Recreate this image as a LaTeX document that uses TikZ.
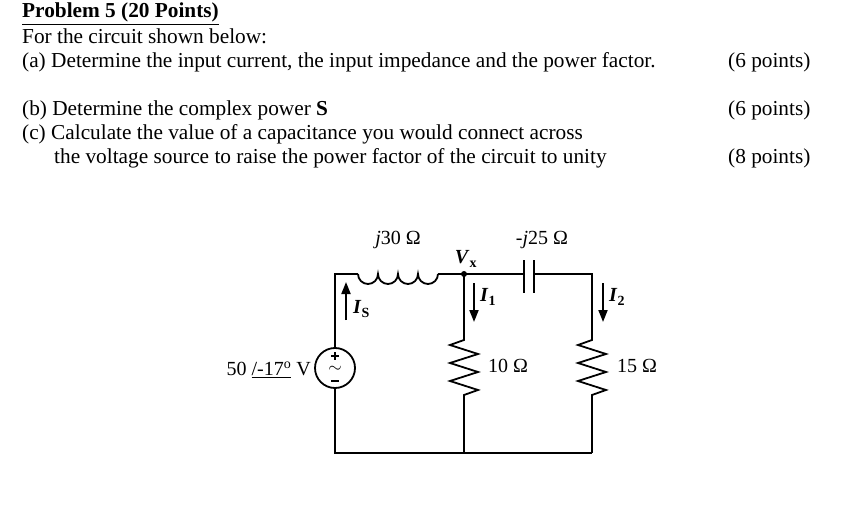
\documentclass[tikz,border=0pt]{standalone}
\usepackage{fontspec}
\setmainfont{Liberation Serif}
\usetikzlibrary{arrows.meta}
\begin{document}
\begin{tikzpicture}[x=1pt,y=-1pt,
  txt/.style={anchor=base west,inner sep=0pt,font=\fontsize{21.3}{24}\selectfont},
  lbl/.style={inner sep=0pt,font=\fontsize{20}{22}\selectfont},
  wire/.style={line width=1.8pt},
  cur/.style={line width=1.8pt,-{Triangle[length=12pt,width=9pt]}}]
\useasboundingbox (0,0) rectangle (854,513);
\node[txt] (t0) at (22,18) {\textbf{\underline{Problem 5 (20 Points)}}};
\node[txt] (t1) at (22,44) {For the circuit shown below:};
\node[txt] (t2) at (22,68) {(a) Determine the input current, the input impedance and the power factor.};
\node[txt] (t3) at (22,116) {(b) Determine the complex power \textbf{S}};
\node[txt] (t4) at (22,140) {(c) Calculate the value of a capacitance you would connect across};
\node[txt] (t5) at (54,164) {the voltage source to raise the power factor of the circuit to unity};
\node[txt] (p1) at (728,68) {(6 points)};
\node[txt] (p2) at (728,116) {(6 points)};
\node[txt] (p3) at (728,164) {(8 points)};
\coordinate (tl) at (335,274);
\coordinate (l1) at (358,274);
\coordinate (l2) at (438,274);
\coordinate (vx) at (464,274);
\coordinate (c1) at (524,274);
\coordinate (c2) at (534,274);
\coordinate (tr) at (592,274);
\coordinate (bl) at (335,453);
\coordinate (bm) at (464,453);
\coordinate (br) at (592,453);
\node[circle,draw,line width=1.8pt,minimum size=40pt,inner sep=0pt] (src) at (335,368) {};
\draw[line width=1.3pt] (331,356) -- (339,356) (335,352) -- (335,360);
\node[inner sep=0pt,font=\fontsize{18}{18}\selectfont] (sw) at (335,369) {$\sim$};
\draw[line width=1.3pt] (331,381) -- (339,381);
\coordinate (r1a) at (464,337); \coordinate (r1b) at (464,400);
\coordinate (r2a) at (592,337); \coordinate (r2b) at (592,400);
\draw[wire] (src.north) -- (tl) -- (l1);
\draw[wire] (l1) \foreach \i in {0,1,2,3} { arc[start angle=180,end angle=0,radius=10] };
\draw[wire] (l2) -- (vx) -- (c1);
\draw[wire] (c1) ++(0,-14) -- ++(0,33);
\draw[wire] (c2) ++(0,-14) -- ++(0,33);
\draw[wire] (c2) -- (tr) -- (r2a);
\draw[wire] (vx) -- (r1a);
\draw[wire] (r1a) -- ++(0,3) -- ++(-14,5) -- ++(28,9) -- ++(-28,9) -- ++(28,9) -- ++(-28,9) -- ++(28,9) -- ++(-14,5) -- (r1b);
\draw[wire] (r2a) -- ++(0,3) -- ++(-14,5) -- ++(28,9) -- ++(-28,9) -- ++(28,9) -- ++(-28,9) -- ++(28,9) -- ++(-14,5) -- (r2b);
\draw[wire] (r1b) -- (bm);
\draw[wire] (r2b) -- (br);
\draw[wire] (src.south) -- (bl) -- (bm) -- (br);
\fill (vx) circle (3pt);
\draw[cur] (346,320) -- (346,282);
\draw[cur] (474,283) -- (474,322);
\draw[cur] (603,283) -- (603,322);
\node[lbl,anchor=west] at (353,309) {\textit{\textbf{I}}\textsubscript{\textbf{S}}};
\node[lbl,anchor=west] at (480,297) {\textit{\textbf{I}}\textsubscript{\textbf{1}}};
\node[lbl,anchor=west] at (609,297) {\textit{\textbf{I}}\textsubscript{\textbf{2}}};
\node[lbl] at (466,259) {\textit{\textbf{V}}\textsubscript{\textbf{x}}};
\node[lbl] at (398,240) {\textit{j}30 Ω};
\node[lbl] at (542,240) {-\textit{j}25 Ω};
\node[lbl,anchor=west] at (488,366) {10 Ω};
\node[lbl,anchor=west] at (617,366) {15 Ω};
\node[lbl,anchor=east] at (311,370) {50 \underline{/-17\textsuperscript{o}} V};
\end{tikzpicture}
\end{document}
